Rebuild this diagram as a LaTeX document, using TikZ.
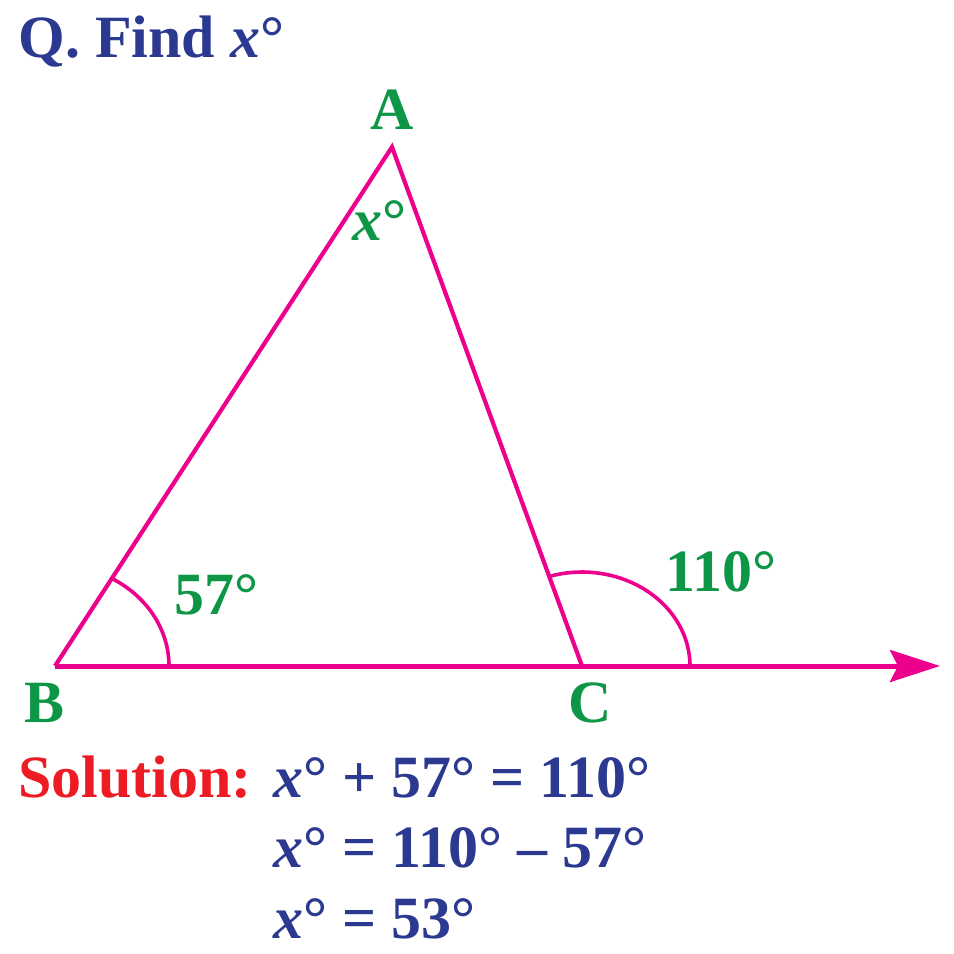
\documentclass[tikz,border=0pt]{standalone}
\usepackage{fontspec}
\setmainfont{Liberation Serif}
\usetikzlibrary{arrows.meta, positioning, calc}
\definecolor{pinkline}{HTML}{EC008C}
\definecolor{ptgreen}{HTML}{0E9647}
\definecolor{qblue}{HTML}{2B3990}
\definecolor{solred}{HTML}{ED1C24}
\newcommand{\xd}{\textit{x}°}

\begin{document}
\begin{tikzpicture}[x=0.5pt, y=0.5pt,
	side/.style={pinkline, line width=2.1pt},
	angarc/.style={pinkline, line width=1.8pt},
	txt/.style={inner sep=0pt, anchor=base west, font=\fontsize{30}{36}\selectfont\bfseries},
	ptlabel/.style={txt, text=ptgreen},
	eqtext/.style={txt, text=qblue}]
		\useasboundingbox (0,0) rectangle (954,-954);
		
		% triangle and the extended base
		\coordinate (A) at (392,-147);
		\coordinate (B) at (55,-666);
		\coordinate (C) at (582,-666);
		\coordinate (E) at (940,-666);
		\draw[side] (B) -- (A) -- (C);
		\draw[side, line width=2.5pt, -{Stealth[length=25pt, width=16pt, inset=4pt]}] (B) -- (E);
		
		% angle marks
		\draw[angarc] ([shift={(114,0)}]B) arc[start angle=0, end angle=60, x radius=114, y radius=101];
		\draw[angarc] ([shift={(108,0)}]C) arc[start angle=0, end angle=107, x radius=108, y radius=94];
		
		% vertex and angle labels
		\node[ptlabel, anchor=base] (labA) at (392,-129) {A};
		\node[ptlabel] (labB) at (24,-722) {B};
		\node[ptlabel] (labC) at (568,-722) {C};
		\node[ptlabel] (angA) at (352,-240) {\xd};
		\node[ptlabel] (angB) at (174,-614) {57°};
		\node[ptlabel] (angC) at (665,-591) {110°};
		
		% question and solution
		\node[eqtext] (title) at (18,-57) {Q. Find \xd};
		\node[txt, text=solred] (sol) at (18,-797) {Solution:};
		\node[eqtext] (eq1) at (273,-797) {\xd{} + 57° = 110°};
		\node[eqtext] (eq2) at (273,-867) {\xd{} = 110° – 57°};
		\node[eqtext] (eq3) at (273,-938) {\xd{} = 53°};
\end{tikzpicture}
\end{document}
